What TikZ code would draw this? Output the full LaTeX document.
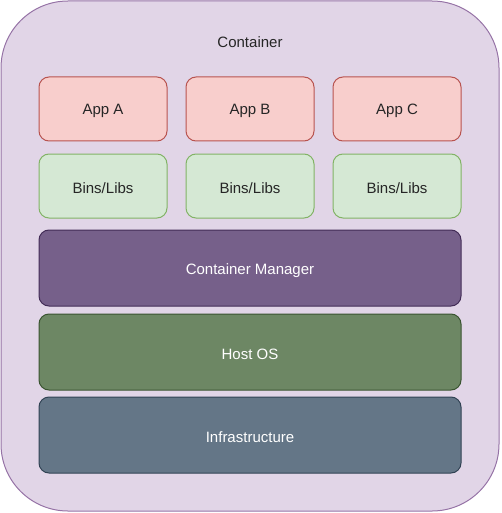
\documentclass[tikz,border=0pt]{standalone}
\usepackage{fontspec}
\setmainfont{Liberation Sans}
\definecolor{outerfill}{HTML}{E1D5E7}
\definecolor{outerline}{HTML}{9673A6}
\definecolor{appfill}{HTML}{F8CECC}
\definecolor{appline}{HTML}{B85450}
\definecolor{binfill}{HTML}{D5E8D4}
\definecolor{binline}{HTML}{82B366}
\definecolor{cmfill}{HTML}{76608A}
\definecolor{cmline}{HTML}{432D57}
\definecolor{osfill}{HTML}{6D8764}
\definecolor{osline}{HTML}{3A5431}
\definecolor{infill}{HTML}{647687}
\definecolor{inline}{HTML}{314354}
\begin{document}
\begin{tikzpicture}[x=1pt,y=-1pt,
  lbl/.style={font=\fontsize{15}{18}\selectfont, text=black!85},
  box/.style={rounded corners=10pt, line width=1pt},
  appbox/.style={box, fill=appfill, draw=appline},
  binbox/.style={box, fill=binfill, draw=binline},
  wlbl/.style={font=\fontsize{15}{18}\selectfont, text=white}]
\useasboundingbox (0,0) rectangle (501,513);
\draw[fill=outerfill, draw=outerline, line width=1pt, rounded corners=67pt] (1,1) rectangle (499,511);
\node[lbl] (ct) at (250,42) {Container};
% apps
\draw[appbox] (39,77) rectangle (167,141);
\node[lbl] (a) at (103,111) {App A};
\draw[appbox] (186,77) rectangle (314,141);
\node[lbl] (b) at (250,111) {App B};
\draw[appbox] (333,77) rectangle (461,141);
\node[lbl] (c) at (397,111) {App C};
% bins
\draw[binbox] (39,154) rectangle (167,218);
\node[lbl] (ba) at (103,188) {Bins/Libs};
\draw[binbox] (186,154) rectangle (314,218);
\node[lbl] (bb) at (250,188) {Bins/Libs};
\draw[binbox] (333,154) rectangle (461,218);
\node[lbl] (bc) at (397,188) {Bins/Libs};
% layers
\draw[box, fill=cmfill, draw=cmline] (39,230) rectangle (461,306);
\node[wlbl] (cm) at (250,271) {Container Manager};
\draw[box, fill=osfill, draw=osline] (39,314) rectangle (461,390);
\node[wlbl] (os) at (250,354) {Host OS};
\draw[box, fill=infill, draw=inline] (39,397) rectangle (461,473);
\node[wlbl] (inf) at (250,437) {Infrastructure};
\end{tikzpicture}
\end{document}
